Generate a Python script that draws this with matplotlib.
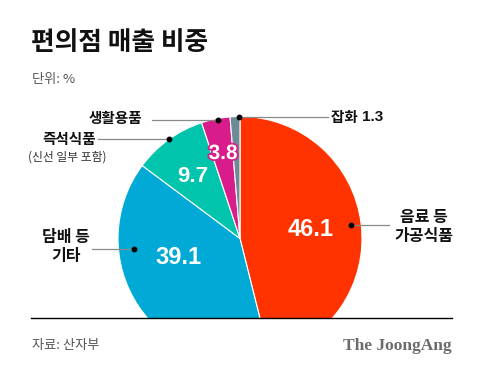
import matplotlib
matplotlib.use("Agg")
import matplotlib.pyplot as plt
import matplotlib.patheffects as pe
from matplotlib.patches import Rectangle
import numpy as np

plt.rcParams['font.family'] = ['Noto Sans CJK KR', 'DejaVu Sans']

# data
categories = ["음료 등\n가공식품", "담배 등\n기타", "즉석식품", "생활용품", "잡화"]
values = [46.1, 39.1, 9.7, 3.8, 1.3]
colors = ["#FF3300", "#00A9D6", "#00C4AC", "#D91C8C", "#6E8A96"]

fig = plt.figure(figsize=(4.8, 3.75), dpi=100)
ax = fig.add_axes([0, 0, 1, 1])

cx, cy, R = 240, 238.5, 122
wedges, _ = ax.pie(values, colors=colors, startangle=-90, counterclock=True,
                   center=(cx, cy), radius=R, frame=True,
                   wedgeprops=dict(edgecolor="white", linewidth=0.8))
ax.set_xlim(0, 480)
ax.set_ylim(375, 0)
ax.axis("off")
# cut the pie off at the bottom rule
ax.add_patch(Rectangle((0, 317.5), 480, 60, facecolor="white", edgecolor="none", zorder=2.5))


def point(w, frac, rf):
    a = np.deg2rad(w.theta1 + frac * (w.theta2 - w.theta1))
    return cx + rf * R * np.cos(a), cy + rf * R * np.sin(a)


# value labels inside wedges
val_pos = [(0.50, 0.58), (0.62, 0.53), (0.47, 0.64), (0.52, 0.71)]
val_size = [17, 17, 16, 15]
for i, (f, rf) in enumerate(val_pos):
    x, y = point(wedges[i], f, rf)
    t = ax.text(x, y, "{:.1f}".format(values[i]), color="white", fontsize=val_size[i],
                fontweight="bold", ha="center", va="center",
                family=["Liberation Sans", "DejaVu Sans"])
    if i == 3:
        t.set_path_effects([pe.withStroke(linewidth=2.5, foreground=colors[3])])

# callouts
dot_pos = [(0.50, 0.92), (0.70, 0.87), (0.51, 1.0), (0.58, 0.99), (0.93, 1.0)]
line_end = [389, 92, 98, 152, 328]
for i, (f, rf) in enumerate(dot_pos):
    x, y = point(wedges[i], f, rf)
    ax.plot([x, line_end[i]], [y, y], color="#8a8a8a", lw=0.9, zorder=3)
    ax.plot(x, y, "o", color="black", ms=3.2, zorder=4)

    if i == 0:
        ax.text(424, y + 2, categories[i], ha="center", va="center", fontsize=11.5,
                fontweight="bold", linespacing=1.2, color="#111111")
    elif i == 1:
        ax.text(66, y - 2, categories[i], ha="center", va="center", fontsize=11.5,
                fontweight="bold", linespacing=1.2, color="#111111")
    elif i == 2:
        ax.text(96, y, categories[i], ha="right", va="center", fontsize=10.5,
                fontweight="bold", color="#111111")
        ax.text(67, y + 18, "(신선 일부 포함)", ha="center", va="center", fontsize=8.5,
                color="#333333")
    elif i == 3:
        ax.text(142, y - 2, categories[i], ha="right", va="center", fontsize=10.5,
                fontweight="bold", color="#111111")
    else:
        ax.text(331, y, categories[i] + " ", ha="left", va="center", fontsize=10.5,
                fontweight="bold", color="#111111")
        ax.text(362, y + 0.5, "{:.1f}".format(values[i]), ha="left", va="center",
                fontsize=11, fontweight="bold", color="#111111",
                family=["Liberation Sans", "DejaVu Sans"])

# title, unit, footer
ax.text(31, 42, "편의점 매출 비중", ha="left", va="center", fontsize=18.5,
        fontweight="black", color="#111111")
ax.text(32, 80, "단위: %", ha="left", va="center", fontsize=9.5, color="#555555")
ax.plot([31, 452], [317.5, 317.5], color="black", lw=1.0, zorder=3)
ax.text(32, 346, "자료: 산자부", ha="left", va="center", fontsize=9.5, color="#555555")
ax.text(452, 346, "The JoongAng", ha="right", va="center", fontsize=12.5,
        fontweight="bold", color="#6b6b6b", family=["Liberation Serif", "DejaVu Serif"])

fig.savefig("out.png", dpi=100)
